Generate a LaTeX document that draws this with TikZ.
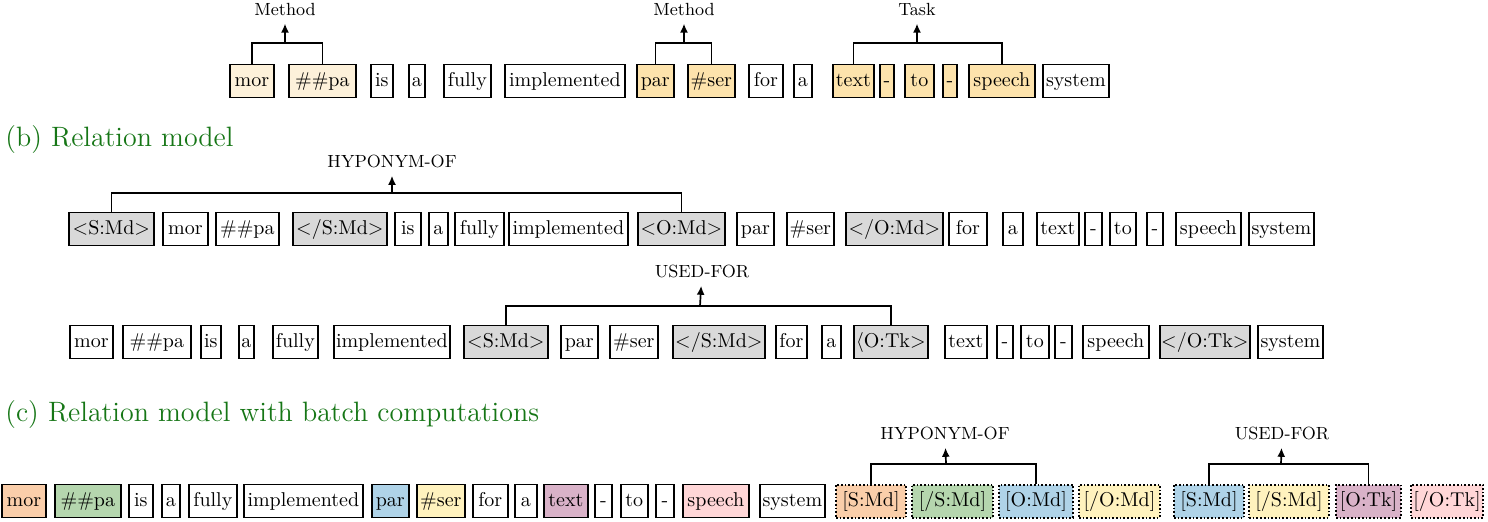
\documentclass[tikz,border=0pt]{standalone}
\usetikzlibrary{arrows.meta}
\definecolor{entlight}{RGB}{253,241,218}
\definecolor{ent}{RGB}{253,227,172}
\definecolor{cpeach}{RGB}{250,206,170}
\definecolor{cgreen}{RGB}{181,214,174}
\definecolor{cblue}{RGB}{175,211,232}
\definecolor{cyellow}{RGB}{255,242,190}
\definecolor{cpurple}{RGB}{217,178,200}
\definecolor{cpink}{RGB}{255,214,215}
\definecolor{headgreen}{RGB}{22,118,22}
\tikzstyle{tok}=[draw,rectangle,line width=.85pt,anchor=west,inner sep=0pt,
  minimum height=16.5pt,text height=7pt,text depth=2pt,
  font=\fontsize{10}{12}\selectfont]
\tikzstyle{tagbox}=[tok,fill=gray!30]
\tikzstyle{dtagbox}=[tok,densely dotted,line width=1pt]
\tikzstyle{lbl}=[inner sep=4pt,font=\fontsize{8.8}{10}\selectfont]
\tikzstyle{head}=[anchor=base west,inner sep=0pt,text=headgreen,
  font=\fontsize{14}{16}\selectfont]
\tikzstyle{bar}=[line width=.85pt]

\begin{document}
\begin{tikzpicture}[x=.5pt,y=-.5pt,>={Latex[length=4.5pt,width=4pt]}]
    \useasboundingbox (0,0) rectangle (1488,521);

    \node[tok,fill=entlight,minimum width=22pt] (morA) at (229,81) {mor};
    \node[tok,fill=entlight,minimum width=33.5pt] (paA) at (288,81) {\#\#pa};
    \node[tok,minimum width=11pt] (isA) at (370,81) {is};
    \node[tok,minimum width=8pt] (aA) at (408,81) {a};
    \node[tok,minimum width=23.5pt] (fullyA) at (443,81) {fully};
    \node[tok,minimum width=60pt] (implA) at (504,81) {implemented};
    \node[tok,fill=ent,minimum width=18.5pt] (parA) at (636,81) {par};
    \node[tok,fill=ent,minimum width=23.5pt] (serA) at (687,81) {\#ser};
    \node[tok,minimum width=17pt] (forA) at (748,81) {for};
    \node[tok,minimum width=9pt] (aA2) at (793,81) {a};
    \node[tok,fill=ent,minimum width=20.5pt] (textA) at (832,81) {text};
    \node[tok,fill=ent,minimum width=7pt] (dashA1) at (879,81) {-};
    \node[tok,fill=ent,minimum width=14.5pt] (toA) at (904,81) {to};
    \node[tok,fill=ent,minimum width=7pt] (dashA2) at (942,81) {-};
    \node[tok,fill=ent,minimum width=33pt] (speechA) at (968,81) {speech};
    \node[tok,minimum width=33pt] (systemA) at (1042,81) {system};
    \node[lbl] (methA1) at (285,9) {Method};
    \node[lbl] (methA2) at (684,9) {Method};
    \node[lbl] (taskA) at (917,9) {Task};
    \coordinate (barA1) at (285,43);
    \coordinate (barA2) at (684,43);
    \coordinate (barA3) at (917,43);
    \draw[bar] (morA.north) |- (barA1) -| (paA.north);
    \draw[bar] (parA.north) |- (barA2) -| (serA.north);
    \draw[bar] (textA.north) |- (barA3) -| (speechA.north);
    \draw[bar,->] (barA1) -- (methA1);
    \draw[bar,->] (barA2) -- (methA2);
    \draw[bar,->] (barA3) -- (taskA);

    \node[head] (headB) at (5,146) {(b) Relation model};
    \node[tagbox,minimum width=42.5pt] (smdB) at (68,229) {<S:Md>};
    \node[tok,minimum width=22.5pt] (morB) at (162,229) {mor};
    \node[tok,minimum width=31.5pt] (paB) at (215,229) {\#\#pa};
    \node[tagbox,minimum width=47pt] (esmdB) at (292,229) {</S:Md>};
    \node[tok,minimum width=13pt] (isB) at (394,229) {is};
    \node[tok,minimum width=9.5pt] (aB) at (428,229) {a};
    \node[tok,minimum width=24.5pt] (fullyB) at (454,229) {fully};
    \node[tok,minimum width=59.5pt] (implB) at (508,229) {implemented};
    \node[tagbox,minimum width=43.5pt] (omdB) at (637,229) {<O:Md>};
    \node[tok,minimum width=18.5pt] (parB) at (736,229) {par};
    \node[tok,minimum width=23.5pt] (serB) at (786,229) {\#ser};
    \node[tagbox,minimum width=48.5pt] (eomdB) at (845,229) {</O:Md>};
    \node[tok,minimum width=19pt] (forB) at (948,229) {for};
    \node[tok,minimum width=10pt] (aB2) at (1002,229) {a};
    \node[tok,minimum width=21pt] (textB) at (1036,229) {text};
    \node[tok,minimum width=8.5pt] (dashB1) at (1084,229) {-};
    \node[tok,minimum width=13pt] (toB) at (1109,229) {to};
    \node[tok,minimum width=8pt] (dashB2) at (1146,229) {-};
    \node[tok,minimum width=32.5pt] (speechB) at (1175,229) {speech};
    \node[tok,minimum width=32.5pt] (systemB) at (1248,229) {system};
    \node[lbl] (hypB) at (392,161) {HYPONYM-OF};
    \coordinate (barB) at (392,193);
    \draw[bar] (smdB.north) |- (barB) -| (omdB.north);
    \draw[bar,->] (barB) -- (hypB);

    \node[tok,minimum width=21.5pt] (morC) at (69,342) {mor};
    \node[tok,minimum width=34pt] (paC) at (122,342) {\#\#pa};
    \node[tok,minimum width=10pt] (isC) at (200,342) {is};
    \node[tok,minimum width=7.5pt] (aC) at (238,342) {a};
    \node[tok,minimum width=22.5pt] (fullyC) at (272,342) {fully};
    \node[tok,minimum width=58pt] (implC) at (333,342) {implemented};
    \node[tagbox,minimum width=42pt] (smdC) at (463,342) {<S:Md>};
    \node[tok,minimum width=18.5pt] (parC) at (560,342) {par};
    \node[tok,minimum width=24pt] (serC) at (609,342) {\#ser};
    \node[tagbox,minimum width=46pt] (esmdC) at (672,342) {</S:Md>};
    \node[tok,minimum width=15.5pt] (forC) at (775,342) {for};
    \node[tok,minimum width=9.5pt] (aC2) at (821,342) {a};
    \node[tagbox,minimum width=37pt] (otkC) at (853,342) {$\langle$O:Tk>};
    \node[tok,minimum width=21pt] (textC) at (944,342) {text};
    \node[tok,minimum width=8pt] (dashC1) at (996,342) {-};
    \node[tok,minimum width=14pt] (toC) at (1020,342) {to};
    \node[tok,minimum width=8.5pt] (dashC2) at (1054,342) {-};
    \node[tok,minimum width=33pt] (speechC) at (1082,342) {speech};
    \node[tagbox,minimum width=45pt] (eotkC) at (1159,342) {</O:Tk>};
    \node[tok,minimum width=32.5pt] (systemC) at (1257,342) {system};
    \node[lbl] (usedC) at (702,271) {USED-FOR};
    \coordinate (barC) at (700,306);
    \draw[bar] (smdC.north) |- (barC) -| (otkC.north);
    \draw[bar,->] (barC) -- (usedC);

    \node[head] (headC) at (5,421) {(c) Relation model with batch computations};
    \node[tok,fill=cpeach,minimum width=22pt] (morD) at (1,501) {mor};
    \node[tok,fill=cgreen,minimum width=33pt] (paD) at (54,501) {\#\#pa};
    \node[tok,minimum width=12pt] (isD) at (128,501) {is};
    \node[tok,minimum width=9pt] (aD) at (161,501) {a};
    \node[tok,minimum width=24pt] (fullyD) at (188,501) {fully};
    \node[tok,minimum width=59.5pt] (implD) at (243,501) {implemented};
    \node[tok,fill=cblue,minimum width=18.5pt] (parD) at (371,501) {par};
    \node[tok,fill=cyellow,minimum width=24pt] (serD) at (416,501) {\#ser};
    \node[tok,minimum width=17.5pt] (forD) at (472,501) {for};
    \node[tok,minimum width=11pt] (aD2) at (514,501) {a};
    \node[tok,fill=cpurple,minimum width=22pt] (textD) at (543,501) {text};
    \node[tok,minimum width=8.5pt] (dashD1) at (594,501) {-};
    \node[tok,minimum width=13.5pt] (toD) at (620,501) {to};
    \node[tok,minimum width=9pt] (dashD2) at (655,501) {-};
    \node[tok,fill=cpink,minimum width=33pt] (speechD) at (682,501) {speech};
    \node[tok,minimum width=32.5pt] (systemD) at (759,501) {system};
    \node[dtagbox,fill=cpeach,minimum width=35pt] (smkD1) at (835,501) {[S:Md]};
    \node[dtagbox,fill=cgreen,minimum width=40.5pt] (esmkD1) at (911,501) {[/S:Md]};
    \node[dtagbox,fill=cblue,minimum width=37pt] (omkD1) at (998,501) {[O:Md]};
    \node[dtagbox,fill=cyellow,minimum width=40.5pt] (eomkD1) at (1078,501) {[/O:Md]};
    \node[dtagbox,fill=cblue,minimum width=35pt] (smkD2) at (1173,501) {[S:Md]};
    \node[dtagbox,fill=cyellow,minimum width=40pt] (esmkD2) at (1248,501) {[/S:Md]};
    \node[dtagbox,fill=cpurple,minimum width=32.5pt] (omkD2) at (1335,501) {[O:Tk]};
    \node[dtagbox,fill=cpink,minimum width=36pt] (eomkD2) at (1410,501) {[/O:Tk]};
    \node[lbl] (hypD) at (945,433) {HYPONYM-OF};
    \node[lbl] (usedD) at (1282,433) {USED-FOR};
    \coordinate (barD1) at (946,464);
    \coordinate (barD2) at (1281,464);
    \draw[bar] (smkD1.north) |- (barD1) -| (omkD1.north);
    \draw[bar] (smkD2.north) |- (barD2) -| (omkD2.north);
    \draw[bar,->] (barD1) -- (hypD);
    \draw[bar,->] (barD2) -- (usedD);
\end{tikzpicture}
\end{document}
